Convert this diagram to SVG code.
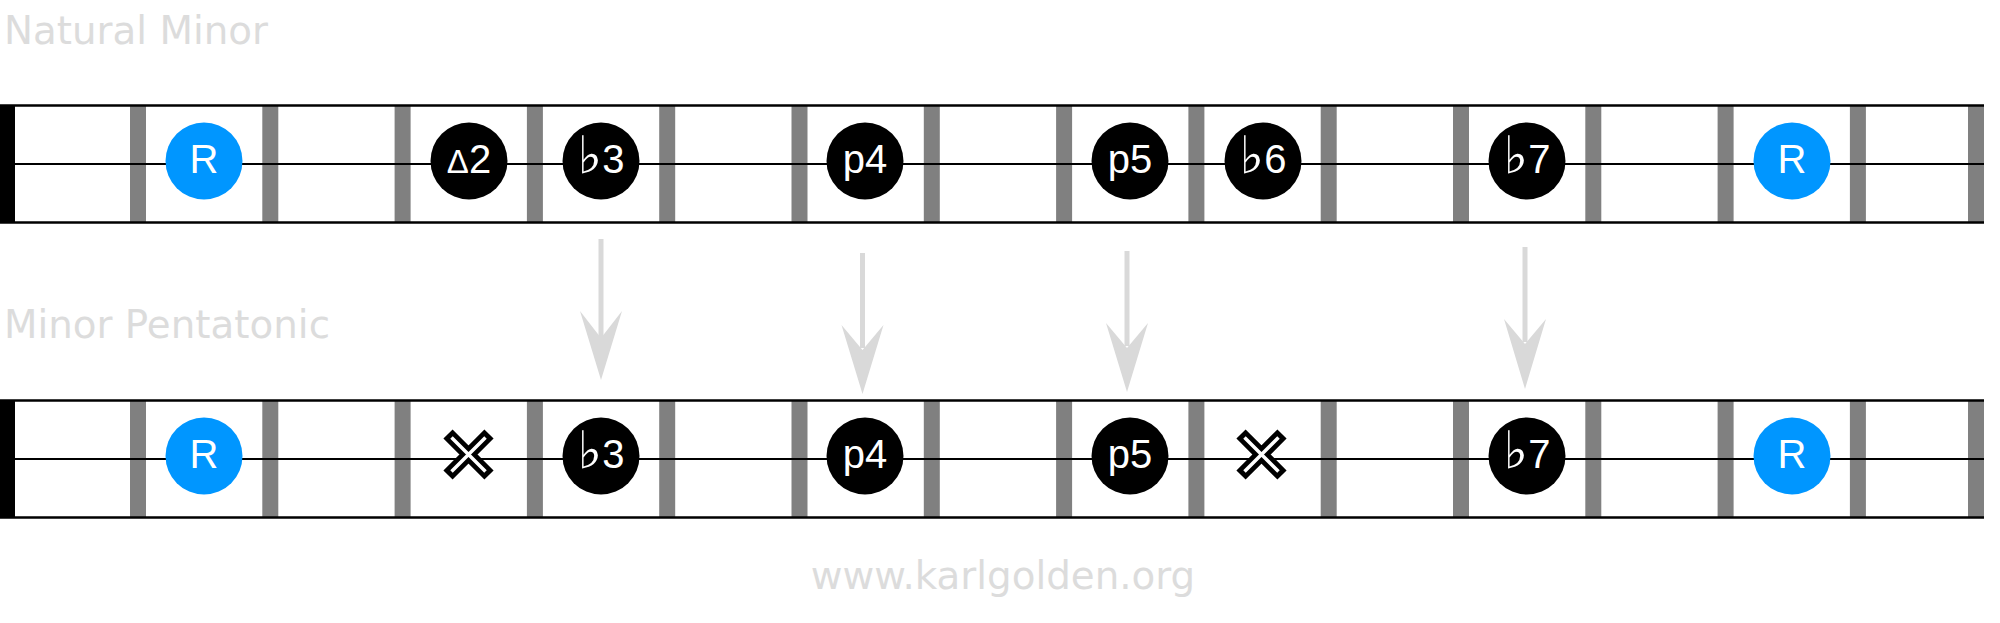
<svg xmlns="http://www.w3.org/2000/svg" width="2000" height="623" viewBox="0 0 2000 623">
<defs>
<style>
.title{font-family:"DejaVu Sans",Verdana,sans-serif;font-size:38.8px;fill:#dcdcdc}
.foot{font-family:"DejaVu Sans",Verdana,sans-serif;font-size:38.8px;fill:#dcdcdc}
.fret{fill:#808080}
.str{stroke:#000;stroke-width:2.5}
.mid{stroke:#000;stroke-width:2}
.lbl{font-family:"Liberation Sans",Arial,"DejaVu Sans",sans-serif;font-size:40px;fill:#fff;text-anchor:middle}
.flat{font-family:"DejaVu Sans",sans-serif;font-size:52px}
.tri{font-size:33px}
.root{fill:#0096ff}
.note{fill:#000}
.shaft{stroke:#d9d9d9;stroke-width:5}
.head{fill:#d9d9d9}
.xo{stroke:#000;stroke-width:13}
.xi{stroke:#fff;stroke-width:3.5}
</style>
<g id="board">
<rect x="0" y="105" width="15" height="117" fill="#000"/>
<rect class="fret" x="130" y="105" width="16" height="117"/>
<rect class="fret" x="262.3" y="105" width="16" height="117"/>
<rect class="fret" x="394.6" y="105" width="16" height="117"/>
<rect class="fret" x="526.9" y="105" width="16" height="117"/>
<rect class="fret" x="659.2" y="105" width="16" height="117"/>
<rect class="fret" x="791.5" y="105" width="16" height="117"/>
<rect class="fret" x="923.8" y="105" width="16" height="117"/>
<rect class="fret" x="1056.1" y="105" width="16" height="117"/>
<rect class="fret" x="1188.4" y="105" width="16" height="117"/>
<rect class="fret" x="1320.7" y="105" width="16" height="117"/>
<rect class="fret" x="1453" y="105" width="16" height="117"/>
<rect class="fret" x="1585.3" y="105" width="16" height="117"/>
<rect class="fret" x="1717.6" y="105" width="16" height="117"/>
<rect class="fret" x="1849.9" y="105" width="16" height="117"/>
<rect class="fret" x="1968" y="105" width="16" height="117"/>
<line class="str" x1="0" y1="105.5" x2="1984" y2="105.5"/>
<line class="mid" x1="0" y1="164" x2="1984" y2="164"/>
<line class="str" x1="0" y1="222.5" x2="1984" y2="222.5"/>
</g>
</defs>

<text id="title1" class="title" x="4" y="44">Natural Minor</text>
<text id="title2" class="title" x="4" y="338">Minor Pentatonic</text>
<text id="footer" class="foot" x="1003" y="589" text-anchor="middle">www.karlgolden.org</text>

<g id="board-natural-minor">
<use href="#board"/>
</g>
<g id="board-minor-pentatonic">
<use href="#board" transform="translate(0,295)"/>
</g>

<g id="nm-R1"><circle class="root" cx="204" cy="161" r="38.5"/><text class="lbl" x="204" y="172.5">R</text></g>
<g id="nm-M2"><circle class="note" cx="469" cy="161" r="38.5"/><text class="lbl" x="469" y="172.5"><tspan class="tri">Δ</tspan>2</text></g>
<g id="nm-b3"><circle class="note" cx="601" cy="161" r="38.5"/><text class="lbl" x="601" y="172.5"><tspan class="flat">♭</tspan>3</text></g>
<g id="nm-p4"><circle class="note" cx="865" cy="161" r="38.5"/><text class="lbl" x="865" y="172.5">p4</text></g>
<g id="nm-p5"><circle class="note" cx="1130" cy="161" r="38.5"/><text class="lbl" x="1130" y="172.5">p5</text></g>
<g id="nm-b6"><circle class="note" cx="1263" cy="161" r="38.5"/><text class="lbl" x="1263" y="172.5"><tspan class="flat">♭</tspan>6</text></g>
<g id="nm-b7"><circle class="note" cx="1527" cy="161" r="38.5"/><text class="lbl" x="1527" y="172.5"><tspan class="flat">♭</tspan>7</text></g>
<g id="nm-R2"><circle class="root" cx="1792" cy="161" r="38.5"/><text class="lbl" x="1792" y="172.5">R</text></g>

<g id="mp-R1"><circle class="root" cx="204" cy="456" r="38.5"/><text class="lbl" x="204" y="467.5">R</text></g>
<g id="mp-x1"><path class="xo" d="M448,434 L489,475 M489,434 L448,475"/><path class="xi" d="M451.5,437.5 L485.5,471.5 M485.5,437.5 L451.5,471.5"/></g>
<g id="mp-b3"><circle class="note" cx="601" cy="456" r="38.5"/><text class="lbl" x="601" y="467.5"><tspan class="flat">♭</tspan>3</text></g>
<g id="mp-p4"><circle class="note" cx="865" cy="456" r="38.5"/><text class="lbl" x="865" y="467.5">p4</text></g>
<g id="mp-p5"><circle class="note" cx="1130" cy="456" r="38.5"/><text class="lbl" x="1130" y="467.5">p5</text></g>
<g id="mp-x2"><path class="xo" d="M1241,434 L1282,475 M1282,434 L1241,475"/><path class="xi" d="M1244.5,437.5 L1278.5,471.5 M1278.5,437.5 L1244.5,471.5"/></g>
<g id="mp-b7"><circle class="note" cx="1527" cy="456" r="38.5"/><text class="lbl" x="1527" y="467.5"><tspan class="flat">♭</tspan>7</text></g>
<g id="mp-R2"><circle class="root" cx="1792" cy="456" r="38.5"/><text class="lbl" x="1792" y="467.5">R</text></g>

<g id="connectors">
<line class="shaft" x1="601" y1="239" x2="601" y2="340"/>
<polygon class="head" points="601,380 580,311 601,338 622,311"/>
<line class="shaft" x1="862.5" y1="253" x2="862.5" y2="348"/>
<polygon class="head" points="862.5,394 841.5,325 862.5,350 883.5,325"/>
<line class="shaft" x1="1127" y1="251" x2="1127" y2="346"/>
<polygon class="head" points="1127,392 1106,323 1127,348 1148,323"/>
<line class="shaft" x1="1525" y1="247" x2="1525" y2="342"/>
<polygon class="head" points="1525,389 1504,319 1525,344 1546,319"/>
</g>
</svg>
